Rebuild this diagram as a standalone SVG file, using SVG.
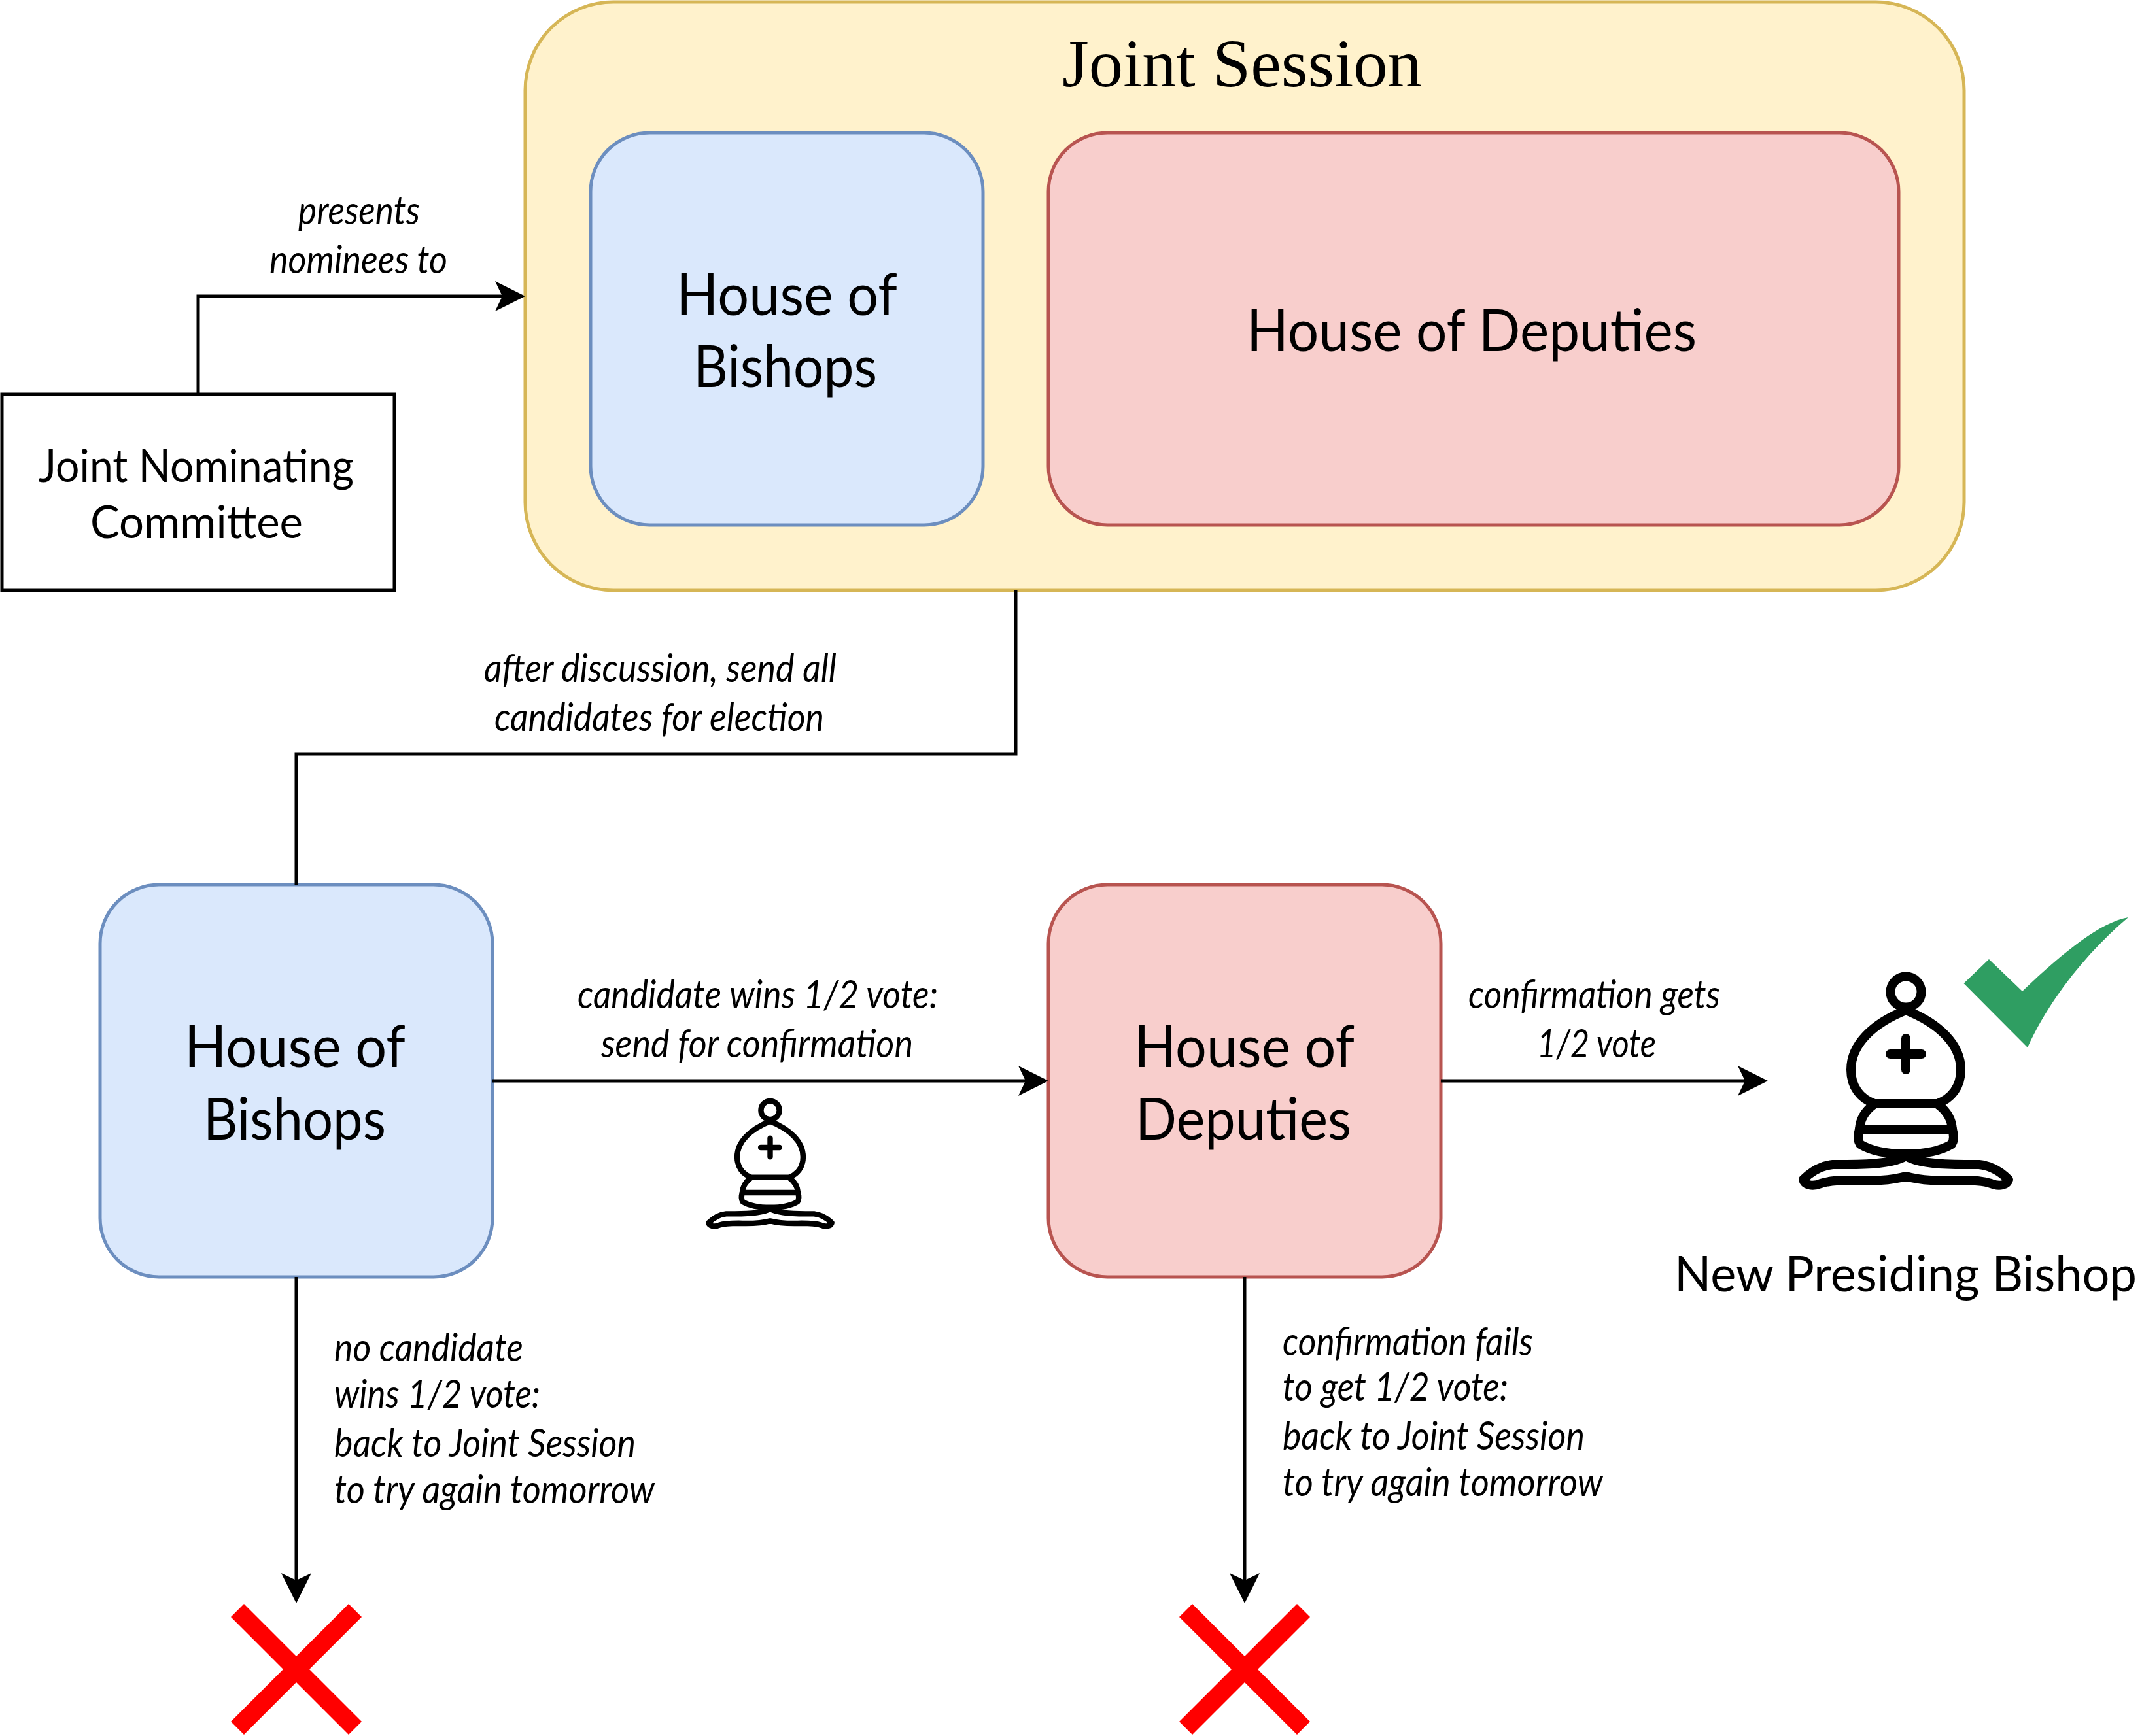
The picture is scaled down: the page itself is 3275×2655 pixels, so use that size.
<svg xmlns="http://www.w3.org/2000/svg" width="3275" height="2655" viewBox="0 0 3275 2655">
<style>
text{font-family:"Lato","Noto Sans","Liberation Sans",sans-serif;fill:#000}
.t90{font-size:90px}
.t75{font-size:75px}
.t70{font-size:70px}
.title{font-family:"Liberation Serif","Times New Roman",serif;font-size:104px}
.e{font-size:60px;font-style:italic}
.box{stroke-width:5}
.blue{fill:#dae8fc;stroke:#6c8ebf}
.red{fill:#f8cecc;stroke:#b85450}
.yellow{fill:#fff2cc;stroke:#d6b656}
.edge{fill:none;stroke:#000;stroke-width:5;stroke-linejoin:miter}
.bishop{fill:none;stroke:#000;stroke-width:14;stroke-linejoin:round;stroke-linecap:round}
.cross{fill:#f00}
</style>
<defs>
<marker id="arrow" markerUnits="userSpaceOnUse" markerWidth="50" markerHeight="50" viewBox="0 0 50 50" refX="26" refY="25" orient="auto">
<path d="M46 25L0 2L11 25L0 48Z" fill="#000"/>
</marker>
<symbol id="bishopShape" viewBox="-170 -5 340 340" overflow="visible">
<g class="bishop">
<circle cx="0" cy="30" r="23.5"/>
<path d="M0 58C-50 78-84 110-84 149C-84 175-70 193-48 201L48 201C70 193 84 175 84 149C84 110 50 78 0 58Z"/>
<path d="M0 101V149M-24 125H24"/>
<path d="M-50 203C-62 212-70 225-71 240H71C70 225 62 212 50 203"/>
<path d="M-71 240C-74 250-73 258-70 263C-55 272-30 278 0 278C30 278 55 272 70 263C73 258 74 250 71 240"/>
<path d="M0 281C-20 293-60 294-90 294L-112 294C-130 296-144 304-157 317C-155 326-142 328-130 323C-118 319-105 318-80 318C-50 319-25 319 0 312C25 319 50 319 80 318C105 318 118 319 130 323C142 328 155 326 157 317C144 304 130 296 112 294L90 294C60 294 20 293 0 281Z"/>
</g>
</symbol>
<polygon id="xmark" class="cross" points="20,0 100,80 180,0 200,20 120,100 200,180 180,200 100,120 20,200 0,180 80,100 0,20"/>
</defs>
<rect width="3275" height="2655" fill="#fff"/>
<g id="joint-session">
<rect class="box yellow" x="803" y="3" width="2200" height="900" rx="135" ry="135"/>
<text class="title" x="1624" y="132" textLength="550" lengthAdjust="spacingAndGlyphs">Joint Session</text>
</g>
<g id="house-of-bishops-top">
<rect class="box blue" x="903" y="203" width="600" height="600" rx="90" ry="90"/>
<text class="t90" x="1034" y="482" textLength="338" lengthAdjust="spacingAndGlyphs">House of</text>
<text class="t90" x="1060" y="592" textLength="281" lengthAdjust="spacingAndGlyphs">Bishops</text>
</g>
<g id="house-of-deputies-top">
<rect class="box red" x="1603" y="203" width="1300" height="600" rx="90" ry="90"/>
<text class="t90" x="1906" y="537" textLength="688" lengthAdjust="spacingAndGlyphs">House of Deputies</text>
</g>
<g id="joint-nominating-committee">
<rect x="3" y="603" width="600" height="300" fill="#fff" stroke="#000" stroke-width="5"/>
<text class="t70" x="59" y="737" textLength="482" lengthAdjust="spacingAndGlyphs">Joint Nominating</text>
<text class="t70" x="138" y="823" textLength="325" lengthAdjust="spacingAndGlyphs">Committee</text>
</g>
<g id="house-of-bishops">
<rect class="box blue" x="153" y="1353" width="600" height="600" rx="90" ry="90"/>
<text class="t90" x="282" y="1632" textLength="338" lengthAdjust="spacingAndGlyphs">House of</text>
<text class="t90" x="311" y="1743" textLength="279" lengthAdjust="spacingAndGlyphs">Bishops</text>
</g>
<g id="house-of-deputies">
<rect class="box red" x="1603" y="1353" width="600" height="600" rx="90" ry="90"/>
<text class="t90" x="1734" y="1632" textLength="337" lengthAdjust="spacingAndGlyphs">House of</text>
<text class="t90" x="1736" y="1743" textLength="330" lengthAdjust="spacingAndGlyphs">Deputies</text>
</g>
<g id="candidate-bishop">
<use href="#bishopShape" x="1075.5" y="1677" width="204" height="204"/>
</g>
<g id="new-presiding-bishop">
<use href="#bishopShape" x="2744" y="1482" width="340" height="340"/>
<text class="t75" x="2560" y="1975" textLength="707" lengthAdjust="spacingAndGlyphs">New Presiding Bishop</text>
</g>
<g id="check-mark">
<path d="M3002.5 1504L3041 1467L3092 1516C3158 1453 3213 1410 3254 1403C3195 1453 3136 1523 3100 1602Z" fill="#2f9e62"/>
</g>
<g id="reject-left"><use href="#xmark" x="353" y="2453"/></g>
<g id="reject-right"><use href="#xmark" x="1803" y="2453"/></g>
<g id="connectors">
<path class="edge" marker-end="url(#arrow)" d="M303 603V453H783"/>
<path class="edge" d="M1553 903V1153H453V1353"/>
<path class="edge" marker-end="url(#arrow)" d="M753 1653H1583"/>
<path class="edge" marker-end="url(#arrow)" d="M2203 1653H2683"/>
<path class="edge" marker-end="url(#arrow)" d="M453 1953V2432"/>
<path class="edge" marker-end="url(#arrow)" d="M1903 1953V2432"/>
</g>
<g id="edge-labels">
<text class="e" x="456" y="343" textLength="186" lengthAdjust="spacingAndGlyphs">presents</text>
<text class="e" x="412" y="418" textLength="272" lengthAdjust="spacingAndGlyphs">nominees to</text>
<text class="e" x="740" y="1043" textLength="539" lengthAdjust="spacingAndGlyphs">after discussion, send all</text>
<text class="e" x="756" y="1118" textLength="504" lengthAdjust="spacingAndGlyphs">candidates for election</text>
<text class="e" x="883" y="1542" textLength="551" lengthAdjust="spacingAndGlyphs">candidate wins 1/2 vote:</text>
<text class="e" x="919" y="1617" textLength="477" lengthAdjust="spacingAndGlyphs">send for confirmation</text>
<text class="e" x="2245" y="1542" textLength="385" lengthAdjust="spacingAndGlyphs">confirmation gets</text>
<text class="e" x="2350" y="1617" textLength="182" lengthAdjust="spacingAndGlyphs">1/2 vote</text>
<text class="e" x="511" y="2082" textLength="289" lengthAdjust="spacingAndGlyphs">no candidate</text>
<text class="e" x="511" y="2153" textLength="315" lengthAdjust="spacingAndGlyphs">wins 1/2 vote:</text>
<text class="e" x="511" y="2228" textLength="461" lengthAdjust="spacingAndGlyphs">back to Joint Session</text>
<text class="e" x="511" y="2299" textLength="490" lengthAdjust="spacingAndGlyphs">to try again tomorrow</text>
<text class="e" x="1961" y="2073" textLength="383" lengthAdjust="spacingAndGlyphs">confirmation fails</text>
<text class="e" x="1961" y="2142" textLength="345" lengthAdjust="spacingAndGlyphs">to get 1/2 vote:</text>
<text class="e" x="1961" y="2217" textLength="462" lengthAdjust="spacingAndGlyphs">back to Joint Session</text>
<text class="e" x="1961" y="2288" textLength="490" lengthAdjust="spacingAndGlyphs">to try again tomorrow</text>
</g>
</svg>
